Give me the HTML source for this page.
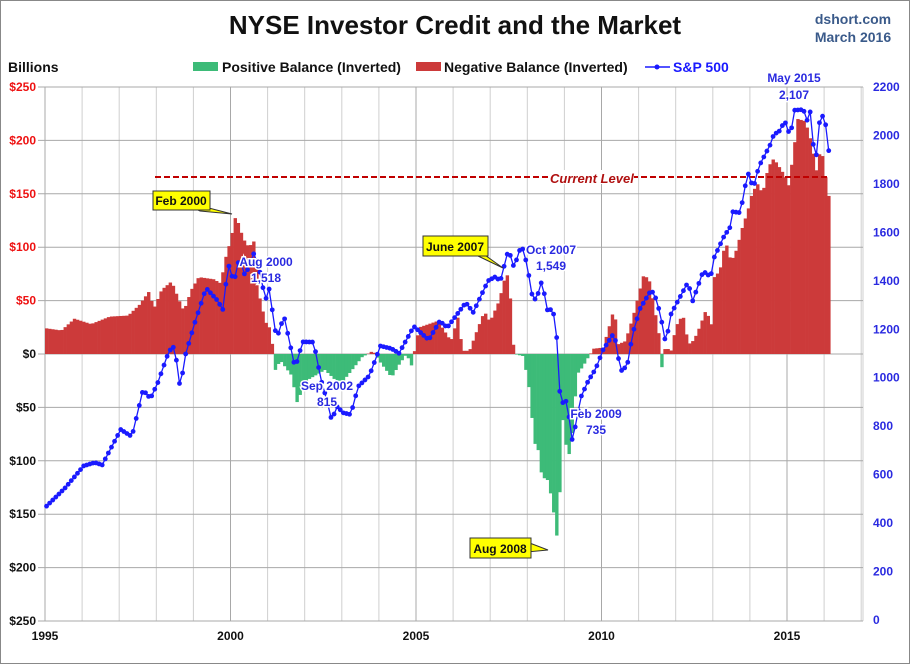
<!DOCTYPE html>
<html><head><meta charset="utf-8"><style>
html,body{margin:0;padding:0;background:#fff}
svg{display:block;font-family:"Liberation Sans",sans-serif}
</style></head><body>
<svg id="c" width="910" height="664" xmlns="http://www.w3.org/2000/svg">
<rect x="0.5" y="0.5" width="909" height="663" fill="#fff" stroke="#888"/>
<g id="grid"></g>
<g id="bars"></g>
<line x1="155" y1="177" x2="827" y2="177" stroke="#c00000" stroke-width="2" stroke-dasharray="6,3"/>
<rect x="548" y="170" width="86" height="14" fill="#fff"/>
<text x="550" y="183" font-size="13" font-style="italic" font-weight="bold" fill="#b01010">Current Level</text>
<g id="line"></g>
<text x="455" y="34" font-size="26" font-weight="bold" text-anchor="middle" fill="#111">NYSE Investor Credit and the Market</text>
<text x="853" y="24" font-size="14" font-weight="bold" text-anchor="middle" fill="#3a5a8a">dshort.com</text>
<text x="853" y="42" font-size="14" font-weight="bold" text-anchor="middle" fill="#3a5a8a">March 2016</text>
<text x="8" y="72" font-size="14" font-weight="bold" fill="#111">Billions</text>
<rect x="193" y="62" width="25" height="9" fill="#3dbb78"/>
<text x="222" y="72" font-size="14" font-weight="bold" fill="#111">Positive Balance (Inverted)</text>
<rect x="416" y="62" width="25" height="9" fill="#cc3a3a"/>
<text x="444" y="72" font-size="14" font-weight="bold" fill="#111">Negative Balance (Inverted)</text>
<line x1="645" y1="67" x2="670" y2="67" stroke="#1a1aff" stroke-width="1.5"/><circle cx="657" cy="67" r="2.5" fill="#1a1aff"/>
<text x="673" y="72" font-size="14" font-weight="bold" fill="#1a1aff">S&amp;P 500</text>
<polygon points="192,207 205,207 232,214 200,211" fill="#ffff00" stroke="#333"/>
<rect x="153" y="191" width="57" height="19" fill="#ffff00" stroke="#333"/>
<text x="181" y="205" font-size="12" font-weight="bold" text-anchor="middle" fill="#111">Feb 2000</text>
<polygon points="470,253 482,253 503,268 478,256" fill="#ffff00" stroke="#333"/>
<rect x="423" y="236" width="65" height="20" fill="#ffff00" stroke="#333"/>
<text x="455" y="251" font-size="12" font-weight="bold" text-anchor="middle" fill="#111">June 2007</text>
<polygon points="527,542 527,552 548,550" fill="#ffff00" stroke="#333"/>
<rect x="470" y="538" width="61" height="20" fill="#ffff00" stroke="#333"/>
<text x="500" y="553" font-size="12" font-weight="bold" text-anchor="middle" fill="#111">Aug 2008</text>
<g font-size="12" font-weight="bold" fill="#2a2ae0" text-anchor="middle" stroke="#fff" stroke-width="3" paint-order="stroke">
<text x="266" y="266">Aug 2000</text><text x="266" y="282">1,518</text>
<text x="551" y="254">Oct 2007</text><text x="551" y="270">1,549</text>
<text x="327" y="390">Sep 2002</text><text x="327" y="406">815</text>
<text x="596" y="418">Feb 2009</text><text x="596" y="434">735</text>
<text x="794" y="82">May 2015</text><text x="794" y="99">2,107</text>
</g>
</svg>
<script>
var X=function(y){return 45+(y-1995)*37.1};
var YL=function(v){return 354-v*1.068};
var YR=function(v){return 620-v*533/2200};
var ns="http://www.w3.org/2000/svg";
function el(p,t,a,txt){var e=document.createElementNS(ns,t);for(var k in a)e.setAttribute(k,a[k]);if(txt!=null)e.textContent=txt;p.appendChild(e);return e}
var g=document.getElementById('grid');
for(var i=0;i<=22;i++){var x=X(1995+i);if(x>864)break;el(g,'line',{x1:x,y1:87,x2:x,y2:621,stroke:(i%5==0?'#a8a8a8':'#cfcfcf'),'stroke-width':1});}
el(g,'line',{x1:863,y1:87,x2:863,y2:621,stroke:'#cfcfcf'});
for(var v=250;v>=-250;v-=50){var y=YL(v);el(g,'line',{x1:38,y1:y,x2:863,y2:y,stroke:'#a8a8a8'});
el(g,'text',{x:36,y:y+4,'font-size':12,'font-weight':'bold','text-anchor':'end',fill:v>0?'#ee1111':'#111'},'$'+Math.abs(v));}
for(var s=0;s<=2200;s+=200){el(g,'text',{x:873,y:YR(s)+4,'font-size':12,'font-weight':'bold',fill:'#2a2ae0'},''+s);}
[1995,2000,2005,2010,2015].forEach(function(yr){el(g,'text',{x:X(yr),y:640,'font-size':12,'font-weight':'bold','text-anchor':'middle',fill:'#111'},''+yr)});
function interp(k,t){if(t<=k[0][0])return k[0][1];for(var i=1;i<k.length;i++){if(t<=k[i][0]){var a=k[i-1],b=k[i];return a[1]+(b[1]-a[1])*(t-a[0])/(b[0]-a[0]);}}return k[k.length-1][1]}
var cr=[[1995,24],[1995.4,22],[1995.75,33],[1996.2,28],[1996.7,35],[1997.2,36],[1997.5,46],[1997.75,58],[1997.9,43],[1998.1,60],[1998.37,68],[1998.55,52],[1998.7,40],[1998.9,60],[1999.1,72],[1999.5,70],[1999.7,66],[1999.8,87],[1999.95,105],[2000.1,130],[2000.3,108],[2000.45,100],[2000.6,106],[2000.75,52],[2000.9,30],[2001.0,25],[2001.08,12],[2001.12,-18],[2001.3,-6],[2001.6,-20],[2001.75,-45],[2002.0,-25],[2002.5,-15],[2002.8,-25],[2003.0,-25],[2003.3,-12],[2003.5,-3],[2003.8,3],[2004.0,-8],[2004.3,-22],[2004.5,-10],[2004.7,0],[2004.85,-12],[2004.95,10],[2005.05,25],[2005.55,31],[2005.9,12],[2006.1,36],[2006.2,3],[2006.4,3],[2006.6,22],[2006.8,40],[2006.95,30],[2007.2,50],[2007.4,78],[2007.5,52],[2007.6,0],[2007.85,-2],[2008.0,-31],[2008.15,-83],[2008.25,-90],[2008.35,-115],[2008.5,-118],[2008.6,-133],[2008.7,-156],[2008.8,-184],[2008.88,-53],[2008.95,-70],[2009.05,-100],[2009.15,-81],[2009.3,-19],[2009.45,-12],[2009.6,-3],[2009.75,5],[2010.0,6],[2010.2,30],[2010.3,44],[2010.4,9],[2010.6,12],[2010.8,34],[2011.1,75],[2011.25,68],[2011.45,30],[2011.55,9],[2011.6,-23],[2011.67,6],[2011.85,3],[2011.95,25],[2012.15,37],[2012.3,9],[2012.45,13],[2012.6,25],[2012.8,44],[2012.9,19],[2013.0,72],[2013.15,78],[2013.3,106],[2013.45,86],[2013.6,98],[2013.75,118],[2013.9,134],[2014.0,148],[2014.15,160],[2014.3,150],[2014.45,175],[2014.6,183],[2014.75,175],[2014.9,167],[2015.0,158],[2015.1,181],[2015.25,220],[2015.45,218],[2015.6,200],[2015.75,172],[2015.85,190],[2015.95,183],[2016.05,148]];
var sp=[[1995,470],[1995.5,545],[1996,636],[1996.3,650],[1996.5,640],[1996.6,670],[1997,786],[1997.3,757],[1997.6,950],[1997.8,914],[1998,980],[1998.3,1110],[1998.45,1130],[1998.6,957],[1998.75,1098],[1999,1229],[1999.3,1370],[1999.6,1320],[1999.75,1282],[1999.9,1469],[2000.05,1394],[2000.2,1498],[2000.35,1420],[2000.6,1518],[2000.75,1436],[2000.9,1320],[2001.0,1366],[2001.2,1160],[2001.4,1255],[2001.7,1040],[2001.9,1148],[2002.2,1147],[2002.4,990],[2002.55,911],[2002.7,815],[2002.8,885],[2003.0,855],[2003.2,848],[2003.4,964],[2003.7,1008],[2004.0,1131],[2004.3,1120],[2004.5,1101],[2004.9,1212],[2005.3,1156],[2005.6,1234],[2005.8,1207],[2006.3,1310],[2006.5,1270],[2006.9,1400],[2007.15,1421],[2007.2,1380],[2007.45,1530],[2007.6,1455],[2007.8,1549],[2007.95,1468],[2008.1,1330],[2008.2,1322],[2008.35,1400],[2008.5,1280],[2008.65,1282],[2008.75,1166],[2008.8,968],[2008.9,896],[2009.0,903],[2009.1,825],[2009.15,735],[2009.25,797],[2009.4,919],[2009.6,987],[2009.8,1036],[2010.0,1115],[2010.3,1186],[2010.4,1089],[2010.5,1030],[2010.65,1049],[2010.8,1183],[2011.0,1286],[2011.3,1363],[2011.45,1320],[2011.6,1218],[2011.7,1131],[2011.8,1253],[2012.0,1312],[2012.3,1397],[2012.4,1310],[2012.7,1440],[2012.9,1416],[2013.0,1498],[2013.3,1597],[2013.4,1606],[2013.5,1685],[2013.7,1681],[2013.9,1848],[2014.05,1782],[2014.2,1872],[2014.5,1960],[2014.6,2003],[2014.75,2018],[2014.9,2059],[2015.05,1995],[2015.15,2104],[2015.4,2107],[2015.5,2063],[2015.6,2104],[2015.65,1972],[2015.75,1920],[2015.85,2079],[2015.95,2080],[2016.0,2044],[2016.05,1940],[2016.15,1932]];
var b=document.getElementById('bars'),w=37.1/12;
for(var m=0;m<254;m++){var t=1995+m/12;var v=interp(cr,t);var x=X(t);var y0=YL(0),y1=YL(v);
el(b,'rect',{x:x,y:Math.min(y0,y1),width:w+0.3,height:Math.abs(y1-y0),fill:v>=0?'#cc3a3a':'#3dbb78'});}
var L=document.getElementById('line'),pts=[];
for(var m=0;m<254;m++){var t=1995+m/12;pts.push([X(t)+w/2,YR(interp(sp,t))]);}
el(L,'polyline',{points:pts.map(function(p){return p[0].toFixed(1)+','+p[1].toFixed(1)}).join(' '),fill:'none',stroke:'#1a1aff','stroke-width':1.3});
pts.forEach(function(p){el(L,'circle',{cx:p[0],cy:p[1],r:2.4,fill:'#1a1aff'})});
</script>
</body></html>
